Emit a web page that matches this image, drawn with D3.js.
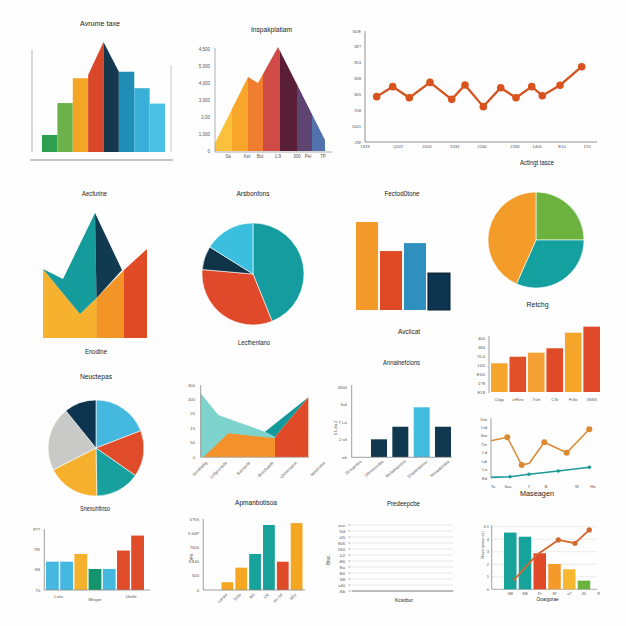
<!DOCTYPE html>
<html><head><meta charset="utf-8">
<script src="https://cdn.jsdelivr.net/npm/d3@7"></script>
<style>body{margin:0;background:#fff}svg{display:block}text{font-family:"Liberation Sans",Arial,sans-serif}</style>
</head><body><svg id="c" width="626" height="626"></svg>
<script>
// ---------- DATA ----------
// Panel 1: stepped "mountain" bars (left/right top heights)
const p1Cats = ["a","b","c","d","e","f","g","h"];
const p1Left = [15.5, 44.5, 67, 70, 100, 73, 58, 44];
const p1Right = [15.5, 44.5, 67, 100, 73, 73, 58, 44];
const p1Colors = ["#2e9e4f","#6cb24a","#f5a524","#d9472b","#15384e","#1f8db5","#39b0d8","#4ac0e2"];
// Panel 2: banded area
const p2Points = [[0,0.47],[33,4.35],[43,4.0],[63,6.12],[110,0.65]];
const p2Bands = [0,17,33,48,65,82,97,110];
const p2Colors = ["#fbc03c","#f7a62a","#ef7f2e","#d04b46","#5a1e37","#5e4470","#5172ad"];
const p2YLabels = ["0","1,000","2,00","3,000","4,000","5,000","4,500"];
const p2XLabels = ["Sa","Kel","Bul","1.9","300","Pel","7P"];
const p2XPos = [13,32,45,63,82,93,108];
// Panel 3: line
const p3X = [11.7,27.7,44.3,65,86.7,100,118.3,135.7,151,166.7,177.3,195,216.7];
const p3Y = [2.86,3.49,2.79,3.76,2.69,3.59,2.23,3.42,2.79,3.49,2.92,3.58,4.75];
const p3YLabels = ["2W","1001","708","365","358","353","38?","SDE"];
const p3XLabels = ["1919","Q022","2024","5331","2240","2330","1404","E10","170"];
const p3XPos = [0,33,62,90,117,150,172,197,222];
// Panel 4: crown shape
const p4Base = [[0,69],[37,24],[53.5,40],[81,68],[104,89]];
const p4Bands = [0,53.5,81,104];
const p4BandColors = ["#f6b22e","#f39526","#e04b26"];
const p4Teal = [[0,69],[20,59],[52,125],[53.5,40],[37,24]];
const p4Navy = [[52,125],[79,68],[53.5,40]];
// Pies
const p5Values = [158,117,27,58];
const p5Colors = ["#159c9e","#e0492a","#0f3347","#3bbfdf"];
const p7Values = [90,114,156];
const p7Colors = ["#6bb33e","#15a0a0","#f39c29"];
const p11Values = [69,56,54,64,78,39];
const p11Colors = ["#45b8e0","#e04b2a","#17a09e","#f6b02e","#c9c9c7","#0e3550"];
// Panel 6 bars
const p6Values = [100,67,76,42];
const p6Colors = ["#f39a2a","#df4a25","#2f8fbf","#0d3450"];
// Panel 8 bars
const p8Values = [3.19,3.92,4.37,4.86,6.59,7.26];
const p8Colors = ["#f5a52a","#e0502a","#f4a035","#e04a28","#f5a52a","#e04a28"];
const p8YLabels = ["E18","1?8","ED0","1D0","?0.0","384","400"];
const p8XLabels = ["Cilga","cHIiro","7slrt","CSi","Fsllo","3SS5"];
// Panel 9 bars
const p9Values = [1.01,1.73,2.84,1.73];
const p9Colors = ["#10394f","#10394f","#42bde0","#10394f"];
const p9YLabels = ["afr","2 sh","7 Lsi","5uli","3000"];
const p9XLabels = ["Seouarslre","Ulenoenntse","Nerlamarnlos","Snamntanner","Nonadoeshe"];
// Panel 10 lines
const p10OX = [0,16.3,30.7,38.3,53.3,75.7,98.3];
const p10OY = [4.42,4.83,1.54,1.74,4.23,3.0,5.78];
const p10TX = [0,19,38,67.3,98.3];
const p10TY = [0.08,0.15,0.44,0.83,1.27];
const p10YLabels = ["Ed","Lo","Ldi","Ld","Tie","Sto","Ltd","Dto"];
const p10XLabels = ["Ta","Sas","Y","B","W","Ho"];
const p10XPos = [2,17,38,55,86,102];
// Panel 12 areas
const p12Teal = [[0,4.43],[17.6,2.93],[64.3,1.77],[74.3,1.40]];
const p12Orange = [[2.6,0],[27.6,1.66],[74.3,1.31]];
const p12Dark = [[64.3,1.77],[107.6,4.15],[74.3,1.40]];
const p12Red = [[74.3,1.40],[107.6,4.15]];
const p12YLabels = ["0","50","15","20","200","300"];
const p12XLabels = ["Surstiadig","Lefgnunade","Sueranile","Bnccbasile","Ulchecoane","Neeenlme"];
const p12XPos = [2.6,22.6,46,69.3,92.6,121];
// Panel 13 bars
const p13Values = [1.40,1.40,1.78,1.04,1.04,1.95,2.69];
const p13Colors = ["#45b8e0","#45b8e0","#f6b12e","#14946c","#45b8e0","#e04b29","#e04b29"];
const p13YLabels = ["70","6N","7W","9??"];
// Panel 14 bars
const p14Values = [0.55,1.58,2.55,4.6,2.0,4.73];
const p14Colors = ["#f5a623","#f5a623","#17a39b","#17a39b","#e04a28","#f5a623"];
const p14YLabels = ["0","500","1.140","7500","5.50P","5?55"];
const p14XLabels = ["Lanas","Sots","AS","LN","wn-1d","sDu"];
// Panel 15 empty grid
const p15Labels = ["i6b","x40","3i8","8i0","8ia","t86","1i2","050","806","i05","1fd","ase"];
// Panel 16 combo
const p16Values = [4.53,4.2,2.88,2.02,1.6,0.69];
const p16Colors = ["#17a39b","#17a39b","#e04a28","#f39a2b","#f7b731","#6ab43e"];
const p16XLabels = ["SB","SB","Pr","W","x7","Zk","R"];
const p16YLabels = ["0","1","2","3","4","4:1"];
const p16LineX = [0.21,1.79,3.26,4.39,5.36];
const p16LineY = [0.69,2.74,3.94,3.68,4.74];

// ---------- HELPERS ----------
const svg = d3.select("#c");
svg.append("rect").attr("width",626).attr("height",626).attr("fill","#fefefe");
function title(x,y,s,w,size=7.5){
  svg.append("text").attr("x",x).attr("y",y).attr("text-anchor","middle").attr("font-size",size)
    .attr("fill","#1d1d1d").attr("textLength",w).attr("lengthAdjust","spacingAndGlyphs").text(s);
}
function small(x,y,s,anchor="middle",size=4.5,rot=0,fill="#555"){
  const t = svg.append("text").attr("x",x).attr("y",y).attr("text-anchor",anchor).attr("font-size",size).attr("fill",fill).text(s);
  if(rot) t.attr("transform",`rotate(${rot},${x},${y})`);
  return t;
}
function line(x1,y1,x2,y2,c="#888",w=1){
  svg.append("line").attr("x1",x1).attr("y1",y1).attr("x2",x2).attr("y2",y2).attr("stroke",c).attr("stroke-width",w);
}
function poly(pts,xs,ys,fill){
  svg.append("path").attr("d", d3.line().x(d=>xs(d[0])).y(d=>ys(d[1]))(pts)+"Z").attr("fill",fill);
}
let clipId=0;
function clipRect(x,y,w,h){
  const id="cl"+(clipId++);
  svg.append("clipPath").attr("id",id).append("rect").attr("x",x).attr("y",y).attr("width",w).attr("height",h);
  return "url(#"+id+")";
}
function pie(values,colors,cx,cy,r){
  const arcs = d3.pie().sort(null).value(d=>d)(values);
  const arc = d3.arc().innerRadius(0).outerRadius(r);
  svg.append("g").attr("transform",`translate(${cx},${cy})`).selectAll("path").data(arcs).join("path")
    .attr("d",arc).attr("fill",(d,i)=>colors[i]).attr("stroke","#fff").attr("stroke-width",0.6);
}

// ---------- PANEL 1 ----------
{
  const x = d3.scaleBand().domain(p1Cats).range([42,165]).padding(0);
  const y = d3.scaleLinear().domain([0,100]).range([152,42]);
  p1Cats.forEach((c,i)=>{
    const x0=x(c), x1=x0+x.bandwidth();
    svg.append("path").attr("d",`M${x0},${y(0)}L${x0},${y(p1Left[i])}L${x1},${y(p1Right[i])}L${x1},${y(0)}Z`).attr("fill",p1Colors[i]);
  });
  line(32,50,32,152,"#c4c4c4",1.3);
  line(30,160,173,160,"#b0b0b0",1.3);
  line(171,65,171,152,"#d0d0d0",1.2);
  title(100,26,"Avrume taxe",40);
}
// ---------- PANEL 2 ----------
{
  const x = d3.scaleLinear().domain([0,110]).range([215,325]);
  const y = d3.scaleLinear().domain([0,6]).range([151,49]);
  const area = d3.area().x(d=>x(d[0])).y0(y(0)).y1(d=>y(d[1]));
  for(let i=0;i<p2Colors.length;i++){
    svg.append("path").attr("d",area(p2Points)).attr("fill",p2Colors[i])
      .attr("clip-path",clipRect(x(p2Bands[i]),30,x(p2Bands[i+1])-x(p2Bands[i])+0.3,130));
  }
  line(215,48,215,152,"#999",0.8);
  line(215,152,332,152,"#999",0.8);
  p2YLabels.forEach((s,i)=>small(210,y(i)+1.5,s,"end"));
  p2XLabels.forEach((s,i)=>small(x(p2XPos[i]),158,s));
  title(271.5,32,"Inspakplatiam",41);
}
// ---------- PANEL 3 ----------
{
  const x = d3.scaleLinear().domain([0,232]).range([365,597]);
  const y = d3.scaleLinear().domain([0,7]).range([142,31]);
  line(365,31,365,142,"#777",0.8);
  line(365,142,597,142,"#777",0.8);
  p3YLabels.forEach((s,i)=>small(361,y(i)+1.5,s,"end",4.2));
  p3XLabels.forEach((s,i)=>small(x(p3XPos[i]),148,s,"middle",4.2));
  const pts = p3X.map((v,i)=>[x(v),y(p3Y[i])]);
  svg.append("path").attr("d",d3.line()(pts)).attr("fill","none").attr("stroke","#d4531f").attr("stroke-width",2.3);
  svg.selectAll(null).data(pts).join("circle").attr("cx",d=>d[0]).attr("cy",d=>d[1]).attr("r",3.8).attr("fill","#d9531e");
  title(537,165,"Actingt tasce",34);
}
// ---------- PANEL 4 ----------
{
  const x = d3.scaleLinear().domain([0,104]).range([43,147]);
  const y = d3.scaleLinear().domain([0,126]).range([338,212]);
  const area = d3.area().x(d=>x(d[0])).y0(y(0)).y1(d=>y(d[1]));
  for(let i=0;i<p4BandColors.length;i++){
    svg.append("path").attr("d",area(p4Base)).attr("fill",p4BandColors[i])
      .attr("clip-path",clipRect(x(p4Bands[i]),200,x(p4Bands[i+1])-x(p4Bands[i])+0.3,150));
  }
  poly(p4Teal,x,y,"#159b9b");
  poly(p4Navy,x,y,"#0f3a4f");
  title(94.5,196,"Aecfurine",25);
  title(96,354,"Enodine",22);
}
// ---------- PANEL 5 ----------
pie(p5Values,p5Colors,253,274,51);
title(253,196,"Arsbonfons",33);
title(254,345,"Lecfhenlano",32);
// ---------- PANEL 6 ----------
{
  const x = d3.scaleBand().domain(d3.range(p6Values.length)).range([356,450]).paddingInner(0.08);
  const y = d3.scaleLinear().domain([0,100]).range([310,222]);
  svg.selectAll(null).data(p6Values).join("rect").attr("x",(d,i)=>x(i)).attr("y",d=>y(d))
    .attr("width",x.bandwidth()).attr("height",d=>y(0)-y(d)).attr("fill",(d,i)=>p6Colors[i])
    .attr("stroke",(d,i)=>i===3?"#081c2a":"none").attr("stroke-width",1);
  title(402,196,"Fectod0tone",35);
}
// ---------- PANEL 7 ----------
pie(p7Values,p7Colors,536,240,48);
title(537.5,307,"Retchg",22);
title(409,334,"Avclicat",22);
// ---------- PANEL 8 ----------
{
  const x = d3.scaleBand().domain(d3.range(p8Values.length)).range([491,600]).paddingInner(0.1);
  const y = d3.scaleLinear().domain([0,6]).range([392,338]);
  svg.selectAll(null).data(p8Values).join("rect").attr("x",(d,i)=>x(i)).attr("y",d=>y(d))
    .attr("width",x.bandwidth()).attr("height",d=>y(0)-y(d)).attr("fill",(d,i)=>p8Colors[i]);
  line(489,336,489,393,"#888",0.8);
  p8YLabels.forEach((s,i)=>small(485,y(i)+1.5,s,"end",4.2));
  p8XLabels.forEach((s,i)=>small(x(i)+x.bandwidth()/2,401,s,"middle",4.2));
}
// ---------- PANEL 9 ----------
{
  const x = d3.scaleBand().domain(d3.range(p9Values.length)).range([371,451]).paddingInner(0.25);
  const xl = d3.scalePoint().domain(d3.range(p9XLabels.length)).range([357,445]);
  const y = d3.scaleLinear().domain([0,4]).range([457,387]);
  svg.selectAll(null).data(p9Values).join("rect").attr("x",(d,i)=>x(i)).attr("y",d=>y(d))
    .attr("width",x.bandwidth()).attr("height",d=>y(0)-y(d)).attr("fill",(d,i)=>p9Colors[i]);
  line(351.7,385,351.7,457.3,"#888",0.8);
  line(351.7,457.3,452,457.3,"#888",0.8);
  p9YLabels.forEach((s,i)=>small(347,y(i)+1.5,s,"end",4.2));
  p9XLabels.forEach((s,i)=>small(xl(i)+5,462,s,"end",4.2,-40));
  small(337,428,"5 Lzbi 2","middle",4.2,-90);
  title(401.5,365,"Annalnefcions",37);
}
// ---------- PANEL 10 ----------
{
  const x = d3.scaleLinear().domain([0,100]).range([491,591]);
  const y = d3.scaleLinear().domain([0,7]).range([478,419]);
  line(491,418,491,478,"#888",0.8);
  p10YLabels.forEach((s,i)=>small(487,y(i)+1.5,s,"end",4.2));
  p10XLabels.forEach((s,i)=>small(x(p10XPos[i]),488,s,"middle",4.2));
  const tp = p10TX.map((v,i)=>[x(v),y(p10TY[i])]);
  svg.append("path").attr("d",d3.line()(tp)).attr("fill","none").attr("stroke","#1b9a9a").attr("stroke-width",1.6);
  svg.selectAll(null).data(tp.slice(1)).join("circle").attr("cx",d=>d[0]).attr("cy",d=>d[1]).attr("r",1.8).attr("fill","#1b9a9a");
  const op = p10OX.map((v,i)=>[x(v),y(p10OY[i])]);
  svg.append("path").attr("d",d3.line()(op)).attr("fill","none").attr("stroke","#d98c35").attr("stroke-width",1.6);
  svg.selectAll(null).data([1,2,4,5,6].map(i=>op[i])).join("circle").attr("cx",d=>d[0]).attr("cy",d=>d[1]).attr("r",3).attr("fill","#dc8a32");
  title(537,496,"Maseagen",34,6.5);
}
// ---------- PANEL 11 ----------
pie(p11Values,p11Colors,96,448,48);
title(96,379,"Neuctepas",32);
title(95,511,"Snexuhfinso",30);
// ---------- PANEL 12 ----------
{
  const x = d3.scaleLinear().domain([0,108]).range([200.7,308.7]);
  const y = d3.scaleLinear().domain([0,5]).range([457.3,385]);
  const area = d3.area().x(d=>x(d[0])).y0(y(0)).y1(d=>y(d[1]));
  svg.append("path").attr("d",area(p12Teal)).attr("fill","#7fd3cd");
  svg.append("path").attr("d",area(p12Orange)).attr("fill","#f5912a");
  poly(p12Dark,x,y,"#13999a");
  svg.append("path").attr("d",area(p12Red)).attr("fill","#e04a26");
  line(200.7,385,200.7,457.3,"#888",0.8);
  line(200.7,457.3,309,457.3,"#aaa",0.8);
  p12YLabels.forEach((s,i)=>small(195,y(i)+1.5,s,"end",4.2));
  p12XLabels.forEach((s,i)=>small(x(p12XPos[i])+4,463,s,"end",4.2,-45));
}
// ---------- PANEL 13 ----------
{
  const x = d3.scaleBand().domain(d3.range(p13Values.length)).range([46,144]).paddingInner(0.1);
  const y = d3.scaleLinear().domain([0,3]).range([590,529.3]);
  svg.selectAll(null).data(p13Values).join("rect").attr("x",(d,i)=>x(i)).attr("y",d=>y(d))
    .attr("width",x.bandwidth()).attr("height",d=>y(0)-y(d)).attr("fill",(d,i)=>p13Colors[i]);
  line(44.3,529,44.3,590,"#888",0.8);
  line(44.3,590,150,590,"#888",0.8);
  p13YLabels.forEach((s,i)=>small(40,y(i)+1.5,s,"end",4.2));
  small(x(0)+x.bandwidth(),598,"Lutis","middle",4.2);
  small(x(3)+x.bandwidth()/2,601,"Mingor","middle",4.2);
  small(x(6),598,"Unitfe","middle",4.2);
}
// ---------- PANEL 14 ----------
{
  const x = d3.scaleBand().domain(d3.range(p14Values.length)).range([221.5,302.5]).paddingInner(0.15);
  const y = d3.scaleLinear().domain([0,5]).range([590,519.3]);
  svg.selectAll(null).data(p14Values).join("rect").attr("x",(d,i)=>x(i)).attr("y",d=>y(d))
    .attr("width",x.bandwidth()).attr("height",d=>y(0)-y(d)).attr("fill",(d,i)=>p14Colors[i]);
  line(203.3,519,203.3,590,"#888",0.8);
  line(203.3,590,305,590,"#888",0.8);
  p14YLabels.forEach((s,i)=>small(199,y(i)+1.5,s,"end",4.2));
  p14XLabels.forEach((s,i)=>small(x(i)+x.bandwidth()/2,595,s,"end",4.2,-45));
  small(193,558,"OPR","middle",4,-90);
  title(256,505,"Apmanbotlsoa",42);
}
// ---------- PANEL 15 ----------
{
  const y = d3.scaleLinear().domain([0,11]).range([591,525]);
  p15Labels.forEach((s,i)=>{
    line(351.7,y(i),453.3,y(i),i===0?"#777":"#dedede",i===0?1:0.7);
    small(345,y(i)+1.5,s,"end",4.2);
    line(348.5,y(i),350.5,y(i),"#666",0.6);
  });
  small(330,560,"Btuo","middle",4.5,-90);
  title(403.5,506,"Predeepcbe",33);
  title(404,602,"Kcwtbur",18,5);
}
// ---------- PANEL 16 ----------
{
  const x = d3.scaleBand().domain(d3.range(p16XLabels.length)).range([504,605]).paddingInner(0.15);
  const xl = d3.scaleLinear().domain([0,6]).range([x(0)+x.bandwidth()/2, x(6)+x.bandwidth()/2]);
  const y = d3.scaleLinear().domain([0,5]).range([589.3,526.7]);
  p16YLabels.forEach((s,i)=>{
    line(491.7,y(i),597,y(i),i===0?"#888":"#e2e2e2",0.7);
    small(489,y(i)+1.5,s,"end",4);
  });
  line(491.7,525,491.7,589.3,"#888",0.8);
  svg.selectAll(null).data(p16Values).join("rect").attr("x",(d,i)=>x(i)).attr("y",d=>y(d))
    .attr("width",x.bandwidth()).attr("height",d=>y(0)-y(d)).attr("fill",(d,i)=>p16Colors[i]);
  const lp = p16LineX.map((v,i)=>[xl(v),y(p16LineY[i])]);
  svg.append("path").attr("d",d3.line()(lp)).attr("fill","none").attr("stroke","#d1692f").attr("stroke-width",1.8);
  svg.selectAll(null).data(lp.slice(2)).join("circle").attr("cx",d=>d[0]).attr("cy",d=>d[1]).attr("r",2.6).attr("fill","#d1692f");
  p16XLabels.forEach((s,i)=>small(x(i)+x.bandwidth()/2,595,s,"middle",4));
  small(484,545,"Mose (pmsa ad)","middle",3.8,-90);
  title(547.5,601,"Ooargorae",22,5.5);
}
</script></body></html>
